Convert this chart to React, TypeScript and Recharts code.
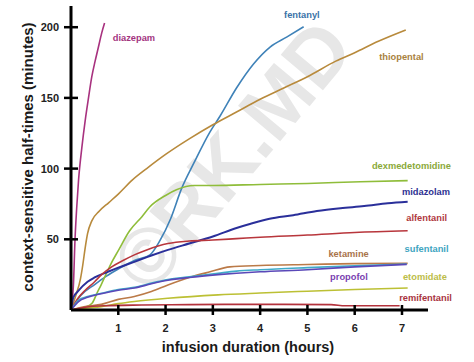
import {
  LineChart,
  Line,
  XAxis,
  YAxis,
  Label,
  ReferenceDot,
  Customized,
} from "recharts";

// context-sensitive half-time curves as [hours, minutes]
const diazepam = [
  [0, 0], [0.03, 8], [0.05, 17], [0.085, 50], [0.12, 72], [0.16, 92], [0.23, 115],
  [0.3, 134], [0.37, 150], [0.44, 165], [0.51, 176], [0.58, 186], [0.65, 196], [0.71, 203],
];
const fentanyl = [
  [0, 0], [0.2, 10], [0.5, 18], [0.75, 24], [1, 29], [1.34, 35], [1.67, 39], [1.88, 49],
  [2.1, 64], [2.34, 86], [2.6, 104], [2.94, 126], [3.15, 137], [3.5, 157], [3.86, 174],
  [4.21, 186], [4.56, 193], [4.92, 200.3],
];
const thiopental = [
  [0, 0], [0.1, 10], [0.2, 22], [0.25, 32], [0.3, 44], [0.35, 54], [0.44, 63], [0.6, 70],
  [0.8, 76], [1, 82], [1.3, 92], [1.6, 100], [2, 110], [2.5, 121], [3, 131], [3.5, 140],
  [4, 149], [4.5, 157], [5, 165], [5.6, 176], [6, 182], [6.5, 190], [7.08, 198],
];
const dexmedetomidine = [
  [0, 0], [0.3, 2], [0.45, 5], [0.55, 12], [0.64, 18], [0.75, 26], [0.85, 33], [1, 42],
  [1.24, 56], [1.5, 66], [1.67, 73], [2, 81], [2.23, 85], [2.6, 88], [3, 88], [4, 88.8],
  [5, 89.5], [6.12, 90.7], [7.12, 91.5],
];
const midazolam = [
  [0, 0], [0.05, 9], [0.14, 13], [0.35, 20], [0.5, 23], [0.78, 27], [1, 30], [1.34, 34],
  [1.7, 38.5], [2.05, 42.5], [2.5, 47], [3, 52], [3.5, 58], [3.8, 61], [4.2, 64.5],
  [4.7, 67], [5.2, 70], [5.7, 72], [6.2, 73.5], [6.7, 75.5], [7.12, 76.6],
];
const alfentanil = [
  [0, 0], [0.14, 8], [0.3, 14], [0.5, 20], [0.64, 24.8], [0.86, 30.5], [1.1, 35], [1.34, 39],
  [1.6, 42.5], [2.05, 47], [2.5, 48.8], [3, 49.5], [3.5, 50.5], [4, 51.5], [5, 53], [6, 54.8],
  [7.12, 56],
];
const sufentanil = [
  [0, 0], [0.16, 7], [0.35, 9.5], [0.64, 11.8], [1, 14.5], [1.34, 16], [1.7, 19], [2.05, 21.5],
  [2.5, 23.5], [3.11, 26], [3.5, 27.5], [4, 28.5], [5, 30], [6, 31.3], [7.1, 32.5],
];
const propofol = [
  [0, 0], [0.16, 6], [0.35, 9], [0.64, 11.5], [1, 14], [1.34, 15.5], [1.7, 18.5], [2.05, 21],
  [2.5, 23], [3.11, 25], [3.5, 26], [4, 27], [5, 28.5], [6, 30.5], [7.1, 32.3],
];
const ketamine = [
  [0, 0], [0.3, 2.5], [0.64, 4], [1, 7.5], [1.34, 9.5], [1.7, 13], [2.05, 17.7], [2.5, 23],
  [2.94, 27], [3.36, 30.5], [4, 31.5], [5, 32.2], [6, 32.8], [7.12, 33],
];
const etomidate = [
  [0, 0], [0.3, 1.2], [0.64, 2.4], [1, 4.5], [1.34, 6], [2.05, 8.3], [3.11, 10.7], [4, 12],
  [5, 13.3], [6, 14.5], [7.12, 15.6],
];
const remifentanil = [
  [0, 0], [0.3, 2], [0.7, 3], [1.5, 3.5], [2.5, 3.8], [3.5, 4], [4.5, 4], [5.5, 3.8],
  [5.8, 3], [6.95, 3],
];

const xTicks = [1, 2, 3, 4, 5, 6, 7];
const yTicks = [50, 100, 150, 200];

// name, points, line colour, text colour, label anchor [hours, minutes]
const drugs = [
  { name: "diazepam", pts: diazepam, color: "#a8327f", text: "#a3357f", at: [0.883, 192.5] },
  { name: "fentanyl", pts: fentanyl, color: "#3f82b8", text: "#3b73a8", at: [4.506, 208.5] },
  { name: "thiopental", pts: thiopental, color: "#b88a3c", text: "#a9823e", at: [6.519, 178.9] },
  { name: "dexmedetomidine", pts: dexmedetomidine, color: "#8fbd3a", text: "#8aa93a", at: [6.364, 102] },
  { name: "midazolam", pts: midazolam, color: "#2a2f9a", text: "#2e3192", at: [7.0, 83.7] },
  { name: "alfentanil", pts: alfentanil, color: "#b8363c", text: "#b0383e", at: [7.09, 65.3] },
  { name: "ketamine", pts: ketamine, color: "#bb7a48", text: "#a8734a", at: [5.445, 39.6] },
  { name: "sufentanil", pts: sufentanil, color: "#40aac8", text: "#3ea4bf", at: [7.055, 43.7] },
  { name: "propofol", pts: propofol, color: "#5a48b8", text: "#7a3fb0", at: [5.48, 23.2] },
  { name: "etomidate", pts: etomidate, color: "#bcc034", text: "#bcbd48", at: [7.02, 23.2] },
  { name: "remifentanil", pts: remifentanil, color: "#b3323c", text: "#a8343e", at: [6.94, 9.0] },
];

const font = "'Liberation Sans', Arial, Helvetica, sans-serif";

const YTick = (props: any) => {
  const { x, y, payload } = props;
  return (
    <g>
      <line x1={x - 7} x2={x + 7} y1={y} y2={y} stroke="#000" strokeWidth={2.5} />
      <text x={x - 12} y={y + 4} textAnchor="end" fontSize={11} fontWeight="bold" fontFamily={font} fill="#222">
        {payload.value}
      </text>
    </g>
  );
};

const XTick = (props: any) => {
  const { x, y, payload } = props;
  return (
    <g>
      <line x1={x} x2={x} y1={y - 5} y2={y + 5} stroke="#000" strokeWidth={2.5} />
      <text x={x} y={y + 22} textAnchor="middle" fontSize={11} fontWeight="bold" fontFamily={font} fill="#222">
        {payload.value}
      </text>
    </g>
  );
};

const Watermark = () => (
  <text
    x={232}
    y={183}
    textAnchor="middle"
    fontSize={80}
    fontWeight="bold"
    fontFamily={font}
    fill="#e7e7e7"
    transform="rotate(-50 232 155)"
  >
    ©RK.MD
  </text>
);

export default function App() {
  return (
    <div style={{ position: "absolute", left: 0, top: 0, background: "#fff" }}>
      <LineChart width={474} height={362} margin={{ top: 6, right: 46, bottom: 0, left: 0 }}>
        <Customized component={Watermark} />
        <XAxis
          type="number"
          dataKey="h"
          domain={[0, 7.55]}
          ticks={xTicks}
          interval={0}
          height={52}
          tickSize={0}
          tickMargin={0}
          tickLine={false}
          tick={<XTick />}
          axisLine={{ stroke: "#000", strokeWidth: 3 }}
          allowDataOverflow
        >
          <Label
            content={() => (
              <text x={248} y={352} textAnchor="middle" fontSize={14.5} fontWeight="bold" fontFamily={font} fill="#1a1a1a">
                infusion duration (hours)
              </text>
            )}
          />
        </XAxis>
        <YAxis
          type="number"
          dataKey="v"
          domain={[0, 215]}
          ticks={yTicks}
          interval={0}
          width={71}
          tickSize={0}
          tickMargin={0}
          tickLine={false}
          tick={<YTick />}
          axisLine={{ stroke: "#000", strokeWidth: 3 }}
          allowDataOverflow
        >
          <Label
            content={() => (
              <text
                x={33}
                y={157}
                textAnchor="middle"
                fontSize={15}
                fontWeight="bold"
                fontFamily={font}
                fill="#1a1a1a"
                transform="rotate(-90 33 157)"
              >
                context-sensitive half-times (minutes)
              </text>
            )}
          />
        </YAxis>
        {drugs.map((d) => (
          <Line
            key={d.name}
            data={d.pts.map(([h, v]) => ({ h, v }))}
            dataKey="v"
            type="monotone"
            stroke={d.color}
            strokeWidth={d.name === "midazolam" ? 2 : 1.6}
            dot={false}
            activeDot={false}
            isAnimationActive={false}
          />
        ))}
        {drugs.map((d) => (
          <ReferenceDot
            key={"lbl-" + d.name}
            x={d.at[0]}
            y={d.at[1]}
            r={0}
            shape={(p: any) => (
              <text x={p.cx} y={p.cy} dy={3.3} fontSize={9.3} fontWeight="bold" fontFamily={font} fill={d.text}>
                {d.name}
              </text>
            )}
          />
        ))}
      </LineChart>
    </div>
  );
}
